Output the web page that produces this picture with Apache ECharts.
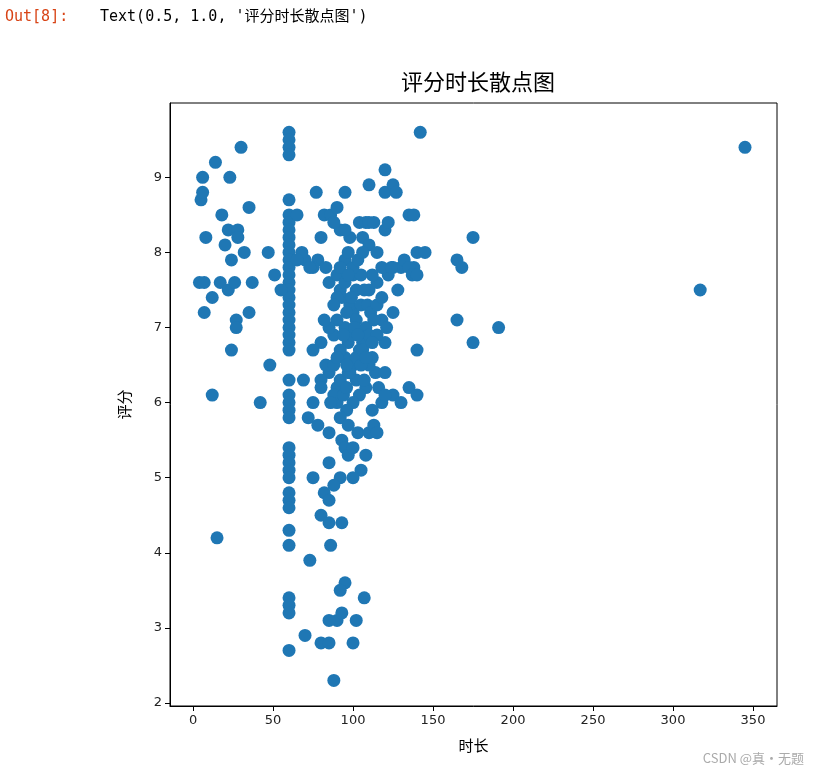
<!DOCTYPE html>
<html><head><meta charset="utf-8">
<script src="https://cdn.jsdelivr.net/npm/echarts@6/dist/echarts.min.js"></script>
<style>html,body{margin:0;padding:0;background:#fff}#c{width:818px;height:778px}</style>
</head><body><div id="c"></div>
<script>
const durations60Ratings=[9.6,9.5,9.4,9.3,8.7,8.5,8.4,8.3,8.2,8.1,8.0,7.9,7.8,7.7,7.6,7.5,7.4,7.3,7.2,7.1,7.0,6.9,6.8,6.7,6.3,6.1,6.0,5.9,5.8,5.4,5.3,5.2,5.1,5.0,4.8,4.7,4.6,4.3,4.1,3.4,3.3,3.2,2.7];
const otherPoints=[[5,8.7],[6,8.8],[6,9.0],[14,9.2],[30,9.4],[23,9.0],[8,8.2],[18,8.5],[20,8.1],[22,8.3],[28,8.3],[28,8.2],[35,8.6],[4,7.6],[7,7.6],[12,7.4],[17,7.6],[22,7.5],[24,7.9],[26,7.6],[32,8.0],[37,7.6],[47,8.0],[51,7.7],[55,7.5],[7,7.2],[27,7.1],[27,7.0],[35,7.2],[24,6.7],[12,6.1],[48,6.5],[42,6.0],[15,4.2],[69,6.3],[65,8.5],
[77,8.8],[82,8.5],[86,8.5],[90,8.6],[92,8.3],[95,8.8],[88,8.4],[80,8.2],[78,7.9],[83,7.8],[75,7.8],[85,7.6],[90,7.7],[92,7.5],[95,7.9],[97,8.0],[100,7.7],[102,7.5],[104,8.4],[108,8.4],[110,8.4],[113,8.4],[106,8.2],[110,8.1],[115,8.0],[120,8.3],[122,8.4],[120,8.8],[120,9.1],[125,8.9],[127,8.8],[110,8.9],[135,8.5],[138,8.5],[140,8.0],[145,8.0],[138,7.8],[130,7.8],[125,7.8],[122,7.7],[128,7.5],[118,7.8],[115,7.6],[110,7.5],[112,7.7],[105,7.7],[100,7.2],[98,7.3],[95,7.0],[93,7.4],[90,7.1],[88,6.9],[85,7.0],[82,7.1],[80,6.8],[75,6.7],[85,6.4],[80,6.3],[80,6.2],[83,6.5],[88,6.5],[90,6.2],[92,6.3],[95,6.6],[97,6.4],[100,6.5],[102,6.3],[104,6.7],[106,6.8],[108,7.0],[110,6.9],[112,6.6],[114,6.4],[116,6.2],[118,6.0],[120,6.4],[120,6.8],[125,7.2],[118,7.1],[115,6.9],[110,6.5],[108,6.2],[104,6.1],[100,6.0],[96,5.9],[92,5.8],[90,6.0],[75,6.0],[72,5.8],[78,5.7],[85,5.6],[93,5.5],[95,5.4],[97,5.3],[100,5.4],[103,5.6],[110,5.6],[113,5.7],[115,5.6],[108,5.3],[105,5.1],[100,5.0],[92,5.0],[88,4.9],[85,5.2],[82,4.8],[85,4.7],[80,4.5],[85,4.4],[93,4.4],[86,4.1],[75,5.0],[73,3.9],[95,3.6],[92,3.5],[107,3.4],[90,3.1],[93,3.2],[85,3.1],[102,3.1],[70,2.9],[80,2.8],[85,2.8],[100,2.8],[88,2.3],[135,6.2],[140,6.1],[140,6.7],[125,6.1],[130,6.0],[120,6.1],[112,5.9],[97,5.7],[165,7.9],[168,7.8],[175,8.2],[165,7.1],[175,6.8],[191,7.0],[142,9.6],[317,7.5],[345,9.4],[70,7.9],[68,8.0],[65,7.9],[73,7.8],[92,7.8],[95,7.6],[96,7.2],[97,6.8],[99,6.9],[102,7.1],[105,7.3],[107,7.5],[109,7.3],[111,7.2],[113,7.1],[100,7.8],[103,7.9],[106,8.0],[98,8.2],[95,8.3],[92,6.7],[90,6.6],[88,6.1],[86,6.0],[94,6.1],[96,6.2],[98,6.4],[102,6.6],[105,6.5],[107,6.3],[97,7.7],[99,7.4],[101,7.0],[103,6.9],[106,6.7],[108,6.6],[112,6.8],[115,7.3],[118,7.4],[121,7.0],[124,7.8],[132,7.9],[135,7.8],[137,7.7],[140,7.7],[90,7.4],[88,7.3],[94,6.9],[96,6.5]];
const xTicks=[0,50,100,150,200,250,300,350];
const yTicks=[2,3,4,5,6,7,8,9];
const data=durations60Ratings.map(r=>[60,r]).concat(otherPoints);
const chart=echarts.init(document.getElementById('c'));
const axisCommon={axisLine:{onZero:false,lineStyle:{color:'#000'}},axisTick:{inside:false,length:5,lineStyle:{color:'#000'}},axisLabel:{color:'#222',fontSize:13,fontFamily:'DejaVu Sans'},splitLine:{show:false}};
chart.setOption({
 animation:false,
 title:{text:'评分时长散点图',left:473,top:66,textAlign:'center',textStyle:{fontFamily:'Noto Sans CJK SC',fontSize:22,fontWeight:'normal',color:'#000'}},
 graphic:[
  {type:'text',left:5,top:10,style:{text:'Out[8]:',fill:'#d84315',font:'15px "DejaVu Sans Mono"'}},
  {type:'text',left:100,top:10,style:{text:"Text(0.5, 1.0, '评分时长散点图')",fill:'#000',font:'15px "DejaVu Sans Mono","Noto Sans CJK SC"'}},
  {type:'text',right:14,top:752,style:{text:'CSDN @真·无题',fill:'#aaa',font:'13px "Noto Sans CJK SC"'}}
 ],
 grid:{left:170,right:41,top:103,bottom:72,show:true,borderColor:'#000',borderWidth:1},
 xAxis:Object.assign({},axisCommon,{type:'value',min:-14.4,max:365,name:'时长',nameLocation:'middle',nameGap:32,nameTextStyle:{fontFamily:'Noto Sans CJK SC',fontSize:15,color:'#000'},axisTick:{customValues:xTicks,length:5,lineStyle:{color:'#000'}},axisLabel:{customValues:xTicks,color:'#222',fontSize:13,fontFamily:'DejaVu Sans',margin:8}}),
 yAxis:Object.assign({},axisCommon,{type:'value',min:1.96,max:9.99,name:'评分',nameLocation:'middle',nameGap:38,nameRotate:90,nameTextStyle:{fontFamily:'Noto Sans CJK SC',fontSize:15,color:'#000'},axisTick:{customValues:yTicks,length:5,lineStyle:{color:'#000'}},axisLabel:{customValues:yTicks,color:'#222',fontSize:13,fontFamily:'DejaVu Sans',margin:8}}),
 series:[{type:'scatter',data:data,symbolSize:13,itemStyle:{color:'#1f77b4',opacity:1}}]
});
</script></body></html>
